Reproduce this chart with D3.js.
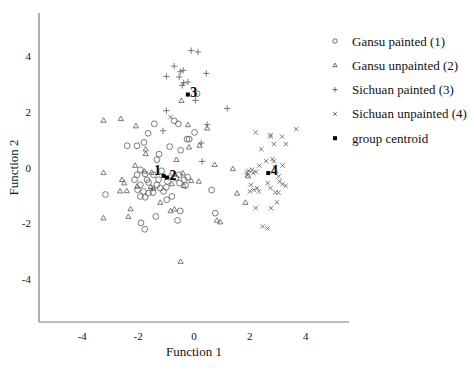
<!DOCTYPE html>
<html>
<head>
<meta charset="utf-8">
<script src="https://d3js.org/d3.v7.min.js"></script>
<style>
  body { margin: 0; background: #fff; }
  text { font-family: "Liberation Serif", "Times New Roman", serif; fill: #111; }
</style>
</head>
<body>
<div id="chart"></div>
<script>
// discriminant scores [Function 1, Function 2]
var gansuPainted = [
  [-1.42,1.57],[-1.64,1.23],[-2.39,0.78],[-2.04,0.78],[-1.79,0.90],[-0.87,0.75],
  [-0.56,1.57],[-0.71,1.68],[-0.25,1.02],[-0.17,1.02],[0.02,1.26],[-0.48,0.62],
  [-1.25,0.48],[-1.33,0.28],[-3.17,-0.97],[-1.90,-1.99],[-1.76,-2.22],[-1.37,-1.76],
  [-0.49,-1.56],[-0.59,-1.90],[0.76,-1.64],[0.63,-0.81],[0.11,2.65],[-0.98,-1.16],
  [-0.79,-1.04],[-2.04,-0.26],[-2.13,-0.44],[-1.75,-0.23],[-1.68,-0.44],[-1.92,-0.62],
  [-2.02,-0.80],[-1.81,-0.86],[-1.92,-1.04],[-1.75,-1.07],[-1.63,-0.92],[-1.47,-0.90],
  [-1.33,-0.62],[-1.21,-0.74],[-0.99,-0.71],[-1.09,-0.86],[-0.65,-0.38],[-0.53,-0.26],
  [-0.35,-0.44],[-0.23,-0.35],[-0.52,-0.56],[-0.30,-0.65],[-1.63,-0.54],[-1.27,-0.44],
  [-1.45,-0.26],[-1.92,-0.08],[-1.16,-0.12],[-0.95,-0.50]
];
var gansuUnpainted = [
  [-3.24,1.69],[-2.62,1.75],[-2.08,1.49],[-3.24,-0.19],[-3.24,-1.82],[-0.45,2.40],
  [-0.22,1.53],[0.47,1.41],[-0.18,0.73],[0.20,0.79],[-1.73,0.66],[-1.73,0.49],
  [-2.11,0.07],[-0.63,0.28],[0.74,0.10],[1.39,-0.05],[1.54,-0.93],[1.84,-1.26],
  [1.94,-0.31],[0.82,-1.90],[0.94,-1.96],[-0.48,-3.38],[-2.27,-1.49],[-2.35,-1.77],
  [-2.65,-0.85],[-2.41,-0.84],[-2.58,-0.44],[-2.50,-0.56],[-1.21,-1.26],[-0.84,-1.56],
  [-0.70,-1.50],[0.17,-0.50],[-0.37,-0.66],[-0.79,-0.59],[-1.45,-0.75],[-2.04,-0.68],
  [-1.78,-0.14],[-0.10,-0.48],[-1.52,-0.18],[-1.55,-0.70],[-0.85,-0.30],[-0.70,-0.25],
  [-0.40,-0.20]
];
var sichuanPainted = [
  [-0.10,4.20],[0.14,4.15],[-0.71,3.64],[-0.39,3.49],[-0.49,3.44],[-0.99,3.27],
  [0.44,3.38],[-0.53,3.25],[-0.37,3.04],[-0.22,3.07],[-0.42,2.95],[0.05,2.41],
  [-0.99,2.04],[1.19,2.12],[-1.11,1.32],[0.47,1.54],[0.26,0.88],[0.29,0.22],
  [-1.50,-0.75]
];
var sichuanUnpainted = [
  [2.21,1.26],[2.74,1.17],[2.74,1.11],[3.15,1.11],[3.66,1.38],[2.86,0.84],
  [3.29,0.84],[2.41,0.66],[2.34,0.07],[2.58,0.23],[2.81,0.30],[2.86,0.22],
  [3.17,0.07],[1.95,-0.12],[2.08,-0.08],[2.22,-0.15],[1.90,-0.26],[2.12,-0.20],
  [3.03,-0.32],[3.07,-0.50],[3.17,-0.60],[3.28,-0.66],[2.64,-0.56],[2.74,-0.74],
  [2.92,-0.90],[3.03,-0.90],[2.04,-0.62],[2.14,-0.80],[2.26,-0.74],[2.32,-0.86],
  [2.00,-0.86],[2.21,-1.46],[2.76,-1.46],[2.97,-1.25],[2.46,-2.12],[2.63,-2.19],
  [1.90,-0.18],[2.90,0.00],[-0.84,1.81]
];
var centroids = [[-1.09,-0.30],[-0.97,-0.36],[-0.22,2.62],[2.66,-0.20]];
var centroidLabels = ["1","2","3","4"];
var labelOffsets = [[-6,-6],[6,-3],[6,-3],[6,-3]];

var legendLabels = ["Gansu painted (1)", "Gansu unpainted (2)", "Sichuan painted (3)",
                    "Sichuan unpainted (4)", "group centroid"];
var ticks = [-4, -2, 0, 2, 4];

var width = 474, height = 372;
var plotL = 39, plotR = 349, plotT = 13, plotB = 322;

var svg = d3.select("#chart").append("svg")
    .attr("width", width)
    .attr("height", height);

var x = d3.scaleLinear().domain([-5.55, 5.55]).range([plotL, plotR]);
var y = d3.scaleLinear().domain([-5.55, 5.55]).range([plotB, plotT]);

var ink = "#5a5a5a";

// symbol path makers
function circlePath(r) {
  return "M" + r + ",0A" + r + "," + r + " 0 1,1 " + (-r) + ",0A" + r + "," + r + " 0 1,1 " + r + ",0Z";
}
function trianglePath(s) {
  var h = s * 0.87;
  return "M0," + (-h * 0.6) + "L" + (s / 2) + "," + (h * 0.4) + "L" + (-s / 2) + "," + (h * 0.4) + "Z";
}
function plusPath(s) {
  return "M" + (-s) + ",0H" + s + "M0," + (-s) + "V" + s;
}
function crossPath(s) {
  return "M" + (-s) + "," + (-s) + "L" + s + "," + s + "M" + (-s) + "," + s + "L" + s + "," + (-s);
}

var series = [
  { data: gansuPainted, path: circlePath(2.9), lpath: circlePath(2.2) },
  { data: gansuUnpainted, path: trianglePath(5.2), lpath: trianglePath(4.2) },
  { data: sichuanPainted, path: plusPath(3.2), lpath: plusPath(2.6) },
  { data: sichuanUnpainted, path: crossPath(2.2), lpath: crossPath(1.8) }
];

// axes lines
svg.append("line")
    .attr("x1", plotL).attr("x2", plotL)
    .attr("y1", plotT).attr("y2", plotB)
    .attr("stroke", "#7a7a7a").attr("stroke-width", 1.2);
svg.append("line")
    .attr("x1", plotL).attr("x2", plotR)
    .attr("y1", plotB).attr("y2", plotB)
    .attr("stroke", "#7a7a7a").attr("stroke-width", 1.2);

svg.selectAll(".xtick")
    .data(ticks)
    .enter().append("text")
    .attr("x", function(d) { return x(d); })
    .attr("y", 340)
    .attr("text-anchor", "middle")
    .style("font-size", "11px")
    .text(function(d) { return d; });

svg.selectAll(".ytick")
    .data(ticks)
    .enter().append("text")
    .attr("x", 31)
    .attr("y", function(d) { return y(d) + 4; })
    .attr("text-anchor", "end")
    .style("font-size", "11px")
    .text(function(d) { return d; });

svg.append("text")
    .attr("x", x(0))
    .attr("y", 356)
    .attr("text-anchor", "middle")
    .style("font-size", "13px")
    .text("Function 1");

svg.append("text")
    .attr("transform", "translate(18," + y(0) + ") rotate(-90)")
    .attr("text-anchor", "middle")
    .style("font-size", "13px")
    .text("Function 2");

// points
series.forEach(function(s) {
  svg.append("g")
    .selectAll("path")
    .data(s.data)
    .enter().append("path")
      .attr("transform", function(d) { return "translate(" + x(d[0]) + "," + y(d[1]) + ")"; })
      .attr("d", s.path)
      .attr("fill", "none")
      .attr("stroke", ink)
      .attr("stroke-width", 0.8);
});

// centroids
svg.append("g")
  .selectAll("rect")
  .data(centroids)
  .enter().append("rect")
    .attr("x", function(d) { return x(d[0]) - 2; })
    .attr("y", function(d) { return y(d[1]) - 2; })
    .attr("width", 4)
    .attr("height", 4)
    .attr("fill", "#000");

svg.append("g")
  .selectAll("text")
  .data(centroids)
  .enter().append("text")
    .attr("x", function(d, i) { return x(d[0]) + labelOffsets[i][0]; })
    .attr("y", function(d, i) { return y(d[1]) + labelOffsets[i][1] + 5; })
    .attr("text-anchor", "middle")
    .style("font-size", "14px")
    .style("font-weight", "bold")
    .style("fill", "#000")
    .text(function(d, i) { return centroidLabels[i]; });

// legend
var legendX = 335, legendY = 41, legendStep = 24.3;
var legend = svg.append("g");

series.forEach(function(s, i) {
  legend.append("path")
    .attr("transform", "translate(" + legendX + "," + (legendY + i * legendStep) + ")")
    .attr("d", s.lpath)
    .attr("fill", "none")
    .attr("stroke", "#444")
    .attr("stroke-width", 0.8);
});
legend.append("rect")
    .attr("x", legendX - 2)
    .attr("y", legendY + 4 * legendStep - 2)
    .attr("width", 4)
    .attr("height", 4)
    .attr("fill", "#000");

legend.selectAll("text")
    .data(legendLabels)
    .enter().append("text")
    .attr("x", 352)
    .attr("y", function(d, i) { return legendY + i * legendStep + 4.5; })
    .style("font-size", "13px")
    .text(function(d) { return d; });
</script>
</body>
</html>
